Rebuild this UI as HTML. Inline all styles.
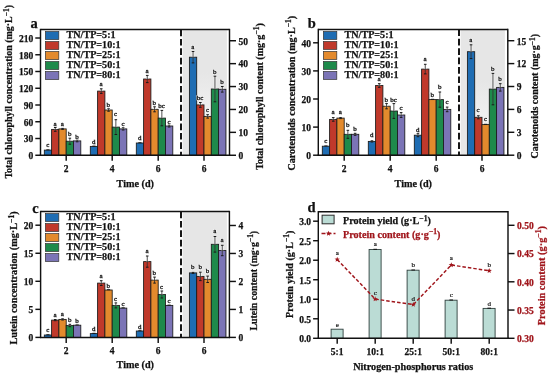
<!DOCTYPE html>
<html><head><meta charset="utf-8"><style>
html,body{margin:0;padding:0;background:#fff;width:550px;height:377px;overflow:hidden}
svg{display:block;will-change:transform;font-family:"Liberation Serif",serif}
</style></head><body>
<svg width="550" height="377" viewBox="0 0 550 377" font-family="Liberation Serif, serif">
<defs><linearGradient id="lg" x1="0" y1="0" x2="0" y2="1"><stop offset="0" stop-color="#e6e6e6"/><stop offset="1" stop-color="#f2f2f2"/></linearGradient></defs>
<rect width="550" height="377" fill="#fff"/>
<rect x="182.60" y="30.10" width="44.30" height="124.55" fill="#e6e6e6" stroke="none" stroke-width="0"/>
<rect x="197.0" y="72.0" width="14.3" height="46.0" fill="url(#lg)"/>
<line x1="181.00" y1="29.50" x2="181.00" y2="155.25" stroke="#111" stroke-width="1.95" stroke-dasharray="6.7 2.7"/>
<rect x="44.30" y="150.10" width="7.30" height="5.15" fill="#1f6db3" stroke="#1a1a1a" stroke-width="0.85"/>
<line x1="46.35" y1="149.80" x2="49.55" y2="149.80" stroke="#111" stroke-width="0.9" />
<text x="47.75" y="147.28" font-size="7" text-anchor="middle" fill="#fff" stroke="#fff" stroke-width="1.6" stroke-opacity="0.6" font-weight="normal">c</text>
<text x="47.75" y="147.28" font-size="7" text-anchor="middle" fill="#111" font-weight="normal" stroke="#111" stroke-width="0.3" >c</text>
<rect x="51.60" y="129.40" width="7.30" height="25.85" fill="#c0392b" stroke="#1a1a1a" stroke-width="0.85"/>
<line x1="55.25" y1="127.00" x2="55.25" y2="129.40" stroke="#fff" stroke-width="2.6" stroke-opacity="0.55"/>
<line x1="55.25" y1="127.50" x2="55.25" y2="131.30" stroke="#333" stroke-width="0.85" />
<line x1="53.95" y1="127.50" x2="56.55" y2="127.50" stroke="#1a1a1a" stroke-width="1.0" />
<line x1="53.95" y1="131.30" x2="56.55" y2="131.30" stroke="#1a1a1a" stroke-width="1.0" />
<text x="55.05" y="126.08" font-size="7" text-anchor="middle" fill="#fff" stroke="#fff" stroke-width="1.6" stroke-opacity="0.6" font-weight="normal">a</text>
<text x="55.05" y="126.08" font-size="7" text-anchor="middle" fill="#111" font-weight="normal" stroke="#111" stroke-width="0.3" >a</text>
<rect x="58.90" y="128.90" width="7.30" height="26.35" fill="#e38a2d" stroke="#1a1a1a" stroke-width="0.85"/>
<line x1="62.55" y1="127.90" x2="62.55" y2="128.90" stroke="#fff" stroke-width="2.6" stroke-opacity="0.55"/>
<line x1="62.55" y1="128.40" x2="62.55" y2="129.40" stroke="#333" stroke-width="0.85" />
<line x1="61.25" y1="128.40" x2="63.85" y2="128.40" stroke="#1a1a1a" stroke-width="1.0" />
<line x1="61.25" y1="129.40" x2="63.85" y2="129.40" stroke="#1a1a1a" stroke-width="1.0" />
<text x="62.35" y="126.08" font-size="7" text-anchor="middle" fill="#fff" stroke="#fff" stroke-width="1.6" stroke-opacity="0.6" font-weight="normal">a</text>
<text x="62.35" y="126.08" font-size="7" text-anchor="middle" fill="#111" font-weight="normal" stroke="#111" stroke-width="0.3" >a</text>
<rect x="66.20" y="141.20" width="7.30" height="14.05" fill="#1e8a4b" stroke="#1a1a1a" stroke-width="0.85"/>
<line x1="69.85" y1="137.70" x2="69.85" y2="141.20" stroke="#fff" stroke-width="2.6" stroke-opacity="0.55"/>
<line x1="69.85" y1="138.20" x2="69.85" y2="144.20" stroke="#333" stroke-width="0.85" />
<line x1="68.55" y1="138.20" x2="71.15" y2="138.20" stroke="#1a1a1a" stroke-width="1.0" />
<line x1="68.55" y1="144.20" x2="71.15" y2="144.20" stroke="#1a1a1a" stroke-width="1.0" />
<text x="69.65" y="136.38" font-size="7" text-anchor="middle" fill="#fff" stroke="#fff" stroke-width="1.6" stroke-opacity="0.6" font-weight="normal">b</text>
<text x="69.65" y="136.38" font-size="7" text-anchor="middle" fill="#111" font-weight="normal" stroke="#111" stroke-width="0.3" >b</text>
<rect x="73.50" y="140.90" width="7.30" height="14.35" fill="#7b74b6" stroke="#1a1a1a" stroke-width="0.85"/>
<line x1="77.15" y1="139.50" x2="77.15" y2="140.90" stroke="#fff" stroke-width="2.6" stroke-opacity="0.55"/>
<line x1="77.15" y1="140.00" x2="77.15" y2="141.80" stroke="#333" stroke-width="0.85" />
<line x1="75.85" y1="140.00" x2="78.45" y2="140.00" stroke="#1a1a1a" stroke-width="1.0" />
<line x1="75.85" y1="141.80" x2="78.45" y2="141.80" stroke="#1a1a1a" stroke-width="1.0" />
<text x="76.95" y="138.98" font-size="7" text-anchor="middle" fill="#fff" stroke="#fff" stroke-width="1.6" stroke-opacity="0.6" font-weight="normal">b</text>
<text x="76.95" y="138.98" font-size="7" text-anchor="middle" fill="#111" font-weight="normal" stroke="#111" stroke-width="0.3" >b</text>
<rect x="90.30" y="146.40" width="7.30" height="8.85" fill="#1f6db3" stroke="#1a1a1a" stroke-width="0.85"/>
<line x1="92.35" y1="146.10" x2="95.55" y2="146.10" stroke="#111" stroke-width="0.9" />
<text x="93.75" y="144.38" font-size="7" text-anchor="middle" fill="#fff" stroke="#fff" stroke-width="1.6" stroke-opacity="0.6" font-weight="normal">d</text>
<text x="93.75" y="144.38" font-size="7" text-anchor="middle" fill="#111" font-weight="normal" stroke="#111" stroke-width="0.3" >d</text>
<rect x="97.60" y="91.10" width="7.30" height="64.15" fill="#c0392b" stroke="#1a1a1a" stroke-width="0.85"/>
<line x1="101.25" y1="88.30" x2="101.25" y2="91.10" stroke="#fff" stroke-width="2.6" stroke-opacity="0.55"/>
<line x1="101.25" y1="88.80" x2="101.25" y2="93.40" stroke="#333" stroke-width="0.85" />
<line x1="99.95" y1="88.80" x2="102.55" y2="88.80" stroke="#1a1a1a" stroke-width="1.0" />
<line x1="99.95" y1="93.40" x2="102.55" y2="93.40" stroke="#1a1a1a" stroke-width="1.0" />
<text x="101.05" y="86.18" font-size="7" text-anchor="middle" fill="#fff" stroke="#fff" stroke-width="1.6" stroke-opacity="0.6" font-weight="normal">a</text>
<text x="101.05" y="86.18" font-size="7" text-anchor="middle" fill="#111" font-weight="normal" stroke="#111" stroke-width="0.3" >a</text>
<rect x="104.90" y="110.00" width="7.30" height="45.25" fill="#e38a2d" stroke="#1a1a1a" stroke-width="0.85"/>
<line x1="108.55" y1="108.30" x2="108.55" y2="110.00" stroke="#fff" stroke-width="2.6" stroke-opacity="0.55"/>
<line x1="108.55" y1="108.80" x2="108.55" y2="111.20" stroke="#333" stroke-width="0.85" />
<line x1="107.25" y1="108.80" x2="109.85" y2="108.80" stroke="#1a1a1a" stroke-width="1.0" />
<line x1="107.25" y1="111.20" x2="109.85" y2="111.20" stroke="#1a1a1a" stroke-width="1.0" />
<text x="108.35" y="106.58" font-size="7" text-anchor="middle" fill="#fff" stroke="#fff" stroke-width="1.6" stroke-opacity="0.6" font-weight="normal">b</text>
<text x="108.35" y="106.58" font-size="7" text-anchor="middle" fill="#111" font-weight="normal" stroke="#111" stroke-width="0.3" >b</text>
<rect x="112.20" y="127.10" width="7.30" height="28.15" fill="#1e8a4b" stroke="#1a1a1a" stroke-width="0.85"/>
<line x1="115.85" y1="119.20" x2="115.85" y2="127.10" stroke="#fff" stroke-width="2.6" stroke-opacity="0.55"/>
<line x1="115.85" y1="119.70" x2="115.85" y2="134.50" stroke="#333" stroke-width="0.85" />
<line x1="114.55" y1="119.70" x2="117.15" y2="119.70" stroke="#1a1a1a" stroke-width="1.0" />
<line x1="114.55" y1="134.50" x2="117.15" y2="134.50" stroke="#1a1a1a" stroke-width="1.0" />
<text x="115.65" y="115.88" font-size="7" text-anchor="middle" fill="#fff" stroke="#fff" stroke-width="1.6" stroke-opacity="0.6" font-weight="normal">c</text>
<text x="115.65" y="115.88" font-size="7" text-anchor="middle" fill="#111" font-weight="normal" stroke="#111" stroke-width="0.3" >c</text>
<rect x="119.50" y="128.90" width="7.30" height="26.35" fill="#7b74b6" stroke="#1a1a1a" stroke-width="0.85"/>
<line x1="123.15" y1="127.30" x2="123.15" y2="128.90" stroke="#fff" stroke-width="2.6" stroke-opacity="0.55"/>
<line x1="123.15" y1="127.80" x2="123.15" y2="130.00" stroke="#333" stroke-width="0.85" />
<line x1="121.85" y1="127.80" x2="124.45" y2="127.80" stroke="#1a1a1a" stroke-width="1.0" />
<line x1="121.85" y1="130.00" x2="124.45" y2="130.00" stroke="#1a1a1a" stroke-width="1.0" />
<text x="122.95" y="126.08" font-size="7" text-anchor="middle" fill="#fff" stroke="#fff" stroke-width="1.6" stroke-opacity="0.6" font-weight="normal">c</text>
<text x="122.95" y="126.08" font-size="7" text-anchor="middle" fill="#111" font-weight="normal" stroke="#111" stroke-width="0.3" >c</text>
<rect x="136.30" y="143.00" width="7.30" height="12.25" fill="#1f6db3" stroke="#1a1a1a" stroke-width="0.85"/>
<line x1="138.35" y1="142.70" x2="141.55" y2="142.70" stroke="#111" stroke-width="0.9" />
<text x="139.75" y="140.48" font-size="7" text-anchor="middle" fill="#fff" stroke="#fff" stroke-width="1.6" stroke-opacity="0.6" font-weight="normal">d</text>
<text x="139.75" y="140.48" font-size="7" text-anchor="middle" fill="#111" font-weight="normal" stroke="#111" stroke-width="0.3" >d</text>
<rect x="143.60" y="79.00" width="7.30" height="76.25" fill="#c0392b" stroke="#1a1a1a" stroke-width="0.85"/>
<line x1="147.25" y1="74.90" x2="147.25" y2="79.00" stroke="#fff" stroke-width="2.6" stroke-opacity="0.55"/>
<line x1="147.25" y1="75.40" x2="147.25" y2="82.60" stroke="#333" stroke-width="0.85" />
<line x1="145.95" y1="75.40" x2="148.55" y2="75.40" stroke="#1a1a1a" stroke-width="1.0" />
<line x1="145.95" y1="82.60" x2="148.55" y2="82.60" stroke="#1a1a1a" stroke-width="1.0" />
<text x="147.05" y="72.68" font-size="7" text-anchor="middle" fill="#fff" stroke="#fff" stroke-width="1.6" stroke-opacity="0.6" font-weight="normal">a</text>
<text x="147.05" y="72.68" font-size="7" text-anchor="middle" fill="#111" font-weight="normal" stroke="#111" stroke-width="0.3" >a</text>
<rect x="150.90" y="109.30" width="7.30" height="45.95" fill="#e38a2d" stroke="#1a1a1a" stroke-width="0.85"/>
<line x1="154.55" y1="106.30" x2="154.55" y2="109.30" stroke="#fff" stroke-width="2.6" stroke-opacity="0.55"/>
<line x1="154.55" y1="106.80" x2="154.55" y2="111.80" stroke="#333" stroke-width="0.85" />
<line x1="153.25" y1="106.80" x2="155.85" y2="106.80" stroke="#1a1a1a" stroke-width="1.0" />
<line x1="153.25" y1="111.80" x2="155.85" y2="111.80" stroke="#1a1a1a" stroke-width="1.0" />
<text x="154.35" y="104.68" font-size="7" text-anchor="middle" fill="#fff" stroke="#fff" stroke-width="1.6" stroke-opacity="0.6" font-weight="normal">b</text>
<text x="154.35" y="104.68" font-size="7" text-anchor="middle" fill="#111" font-weight="normal" stroke="#111" stroke-width="0.3" >b</text>
<rect x="158.20" y="118.10" width="7.30" height="37.15" fill="#1e8a4b" stroke="#1a1a1a" stroke-width="0.85"/>
<line x1="161.85" y1="109.90" x2="161.85" y2="118.10" stroke="#fff" stroke-width="2.6" stroke-opacity="0.55"/>
<line x1="161.85" y1="110.40" x2="161.85" y2="125.80" stroke="#333" stroke-width="0.85" />
<line x1="160.55" y1="110.40" x2="163.15" y2="110.40" stroke="#1a1a1a" stroke-width="1.0" />
<line x1="160.55" y1="125.80" x2="163.15" y2="125.80" stroke="#1a1a1a" stroke-width="1.0" />
<text x="161.65" y="108.38" font-size="7" text-anchor="middle" fill="#fff" stroke="#fff" stroke-width="1.6" stroke-opacity="0.6" font-weight="normal">bc</text>
<text x="161.65" y="108.38" font-size="7" text-anchor="middle" fill="#111" font-weight="normal" stroke="#111" stroke-width="0.3" >bc</text>
<rect x="165.50" y="126.00" width="7.30" height="29.25" fill="#7b74b6" stroke="#1a1a1a" stroke-width="0.85"/>
<line x1="169.15" y1="124.50" x2="169.15" y2="126.00" stroke="#fff" stroke-width="2.6" stroke-opacity="0.55"/>
<line x1="169.15" y1="125.00" x2="169.15" y2="127.00" stroke="#333" stroke-width="0.85" />
<line x1="167.85" y1="125.00" x2="170.45" y2="125.00" stroke="#1a1a1a" stroke-width="1.0" />
<line x1="167.85" y1="127.00" x2="170.45" y2="127.00" stroke="#1a1a1a" stroke-width="1.0" />
<text x="168.95" y="123.98" font-size="7" text-anchor="middle" fill="#fff" stroke="#fff" stroke-width="1.6" stroke-opacity="0.6" font-weight="normal">c</text>
<text x="168.95" y="123.98" font-size="7" text-anchor="middle" fill="#111" font-weight="normal" stroke="#111" stroke-width="0.3" >c</text>
<rect x="189.40" y="57.20" width="7.30" height="98.05" fill="#1f6db3" stroke="#1a1a1a" stroke-width="0.85"/>
<line x1="193.05" y1="51.00" x2="193.05" y2="57.20" stroke="#fff" stroke-width="2.6" stroke-opacity="0.55"/>
<line x1="193.05" y1="51.50" x2="193.05" y2="62.90" stroke="#333" stroke-width="0.85" />
<line x1="191.75" y1="51.50" x2="194.35" y2="51.50" stroke="#1a1a1a" stroke-width="1.0" />
<line x1="191.75" y1="62.90" x2="194.35" y2="62.90" stroke="#1a1a1a" stroke-width="1.0" />
<text x="192.85" y="49.08" font-size="7" text-anchor="middle" fill="#fff" stroke="#fff" stroke-width="1.6" stroke-opacity="0.6" font-weight="normal">a</text>
<text x="192.85" y="49.08" font-size="7" text-anchor="middle" fill="#111" font-weight="normal" stroke="#111" stroke-width="0.3" >a</text>
<rect x="196.70" y="104.90" width="7.30" height="50.35" fill="#c0392b" stroke="#1a1a1a" stroke-width="0.85"/>
<line x1="200.35" y1="102.00" x2="200.35" y2="104.90" stroke="#fff" stroke-width="2.6" stroke-opacity="0.55"/>
<line x1="200.35" y1="102.50" x2="200.35" y2="107.30" stroke="#333" stroke-width="0.85" />
<line x1="199.05" y1="102.50" x2="201.65" y2="102.50" stroke="#1a1a1a" stroke-width="1.0" />
<line x1="199.05" y1="107.30" x2="201.65" y2="107.30" stroke="#1a1a1a" stroke-width="1.0" />
<text x="200.15" y="100.18" font-size="7" text-anchor="middle" fill="#fff" stroke="#fff" stroke-width="1.6" stroke-opacity="0.6" font-weight="normal">bc</text>
<text x="200.15" y="100.18" font-size="7" text-anchor="middle" fill="#111" font-weight="normal" stroke="#111" stroke-width="0.3" >bc</text>
<rect x="204.00" y="116.40" width="7.30" height="38.85" fill="#e38a2d" stroke="#1a1a1a" stroke-width="0.85"/>
<line x1="207.65" y1="114.20" x2="207.65" y2="116.40" stroke="#fff" stroke-width="2.6" stroke-opacity="0.55"/>
<line x1="207.65" y1="114.70" x2="207.65" y2="118.10" stroke="#333" stroke-width="0.85" />
<line x1="206.35" y1="114.70" x2="208.95" y2="114.70" stroke="#1a1a1a" stroke-width="1.0" />
<line x1="206.35" y1="118.10" x2="208.95" y2="118.10" stroke="#1a1a1a" stroke-width="1.0" />
<text x="207.45" y="112.28" font-size="7" text-anchor="middle" fill="#fff" stroke="#fff" stroke-width="1.6" stroke-opacity="0.6" font-weight="normal">c</text>
<text x="207.45" y="112.28" font-size="7" text-anchor="middle" fill="#111" font-weight="normal" stroke="#111" stroke-width="0.3" >c</text>
<rect x="211.30" y="89.00" width="7.30" height="66.25" fill="#1e8a4b" stroke="#1a1a1a" stroke-width="0.85"/>
<line x1="214.95" y1="75.70" x2="214.95" y2="89.00" stroke="#fff" stroke-width="2.6" stroke-opacity="0.55"/>
<line x1="214.95" y1="76.20" x2="214.95" y2="101.80" stroke="#333" stroke-width="0.85" />
<line x1="213.65" y1="76.20" x2="216.25" y2="76.20" stroke="#1a1a1a" stroke-width="1.0" />
<line x1="213.65" y1="101.80" x2="216.25" y2="101.80" stroke="#1a1a1a" stroke-width="1.0" />
<text x="214.75" y="73.68" font-size="7" text-anchor="middle" fill="#fff" stroke="#fff" stroke-width="1.6" stroke-opacity="0.6" font-weight="normal">b</text>
<text x="214.75" y="73.68" font-size="7" text-anchor="middle" fill="#111" font-weight="normal" stroke="#111" stroke-width="0.3" >b</text>
<rect x="218.60" y="89.30" width="7.30" height="65.95" fill="#7b74b6" stroke="#1a1a1a" stroke-width="0.85"/>
<line x1="222.25" y1="86.00" x2="222.25" y2="89.30" stroke="#fff" stroke-width="2.6" stroke-opacity="0.55"/>
<line x1="222.25" y1="86.50" x2="222.25" y2="92.10" stroke="#333" stroke-width="0.85" />
<line x1="220.95" y1="86.50" x2="223.55" y2="86.50" stroke="#1a1a1a" stroke-width="1.0" />
<line x1="220.95" y1="92.10" x2="223.55" y2="92.10" stroke="#1a1a1a" stroke-width="1.0" />
<text x="222.05" y="84.28" font-size="7" text-anchor="middle" fill="#fff" stroke="#fff" stroke-width="1.6" stroke-opacity="0.6" font-weight="normal">b</text>
<text x="222.05" y="84.28" font-size="7" text-anchor="middle" fill="#111" font-weight="normal" stroke="#111" stroke-width="0.3" >b</text>
<line x1="40.50" y1="29.50" x2="229.50" y2="29.50" stroke="#111" stroke-width="1.45" />
<line x1="40.50" y1="28.85" x2="40.50" y2="155.90" stroke="#111" stroke-width="1.45" />
<line x1="229.50" y1="28.85" x2="229.50" y2="155.90" stroke="#111" stroke-width="1.45" />
<line x1="39.85" y1="155.25" x2="230.15" y2="155.25" stroke="#111" stroke-width="1.45" />
<line x1="35.30" y1="155.25" x2="40.50" y2="155.25" stroke="#111" stroke-width="1.45" />
<text x="33.20" y="159.08" font-size="9.5" text-anchor="end" fill="#111" font-weight="bold" stroke="#111" stroke-width="0.25" >0</text>
<line x1="35.30" y1="138.50" x2="40.50" y2="138.50" stroke="#111" stroke-width="1.45" />
<text x="33.20" y="142.33" font-size="9.5" text-anchor="end" fill="#111" font-weight="bold" stroke="#111" stroke-width="0.25" >30</text>
<line x1="35.30" y1="121.75" x2="40.50" y2="121.75" stroke="#111" stroke-width="1.45" />
<text x="33.20" y="125.58" font-size="9.5" text-anchor="end" fill="#111" font-weight="bold" stroke="#111" stroke-width="0.25" >60</text>
<line x1="35.30" y1="105.00" x2="40.50" y2="105.00" stroke="#111" stroke-width="1.45" />
<text x="33.20" y="108.83" font-size="9.5" text-anchor="end" fill="#111" font-weight="bold" stroke="#111" stroke-width="0.25" >90</text>
<line x1="35.30" y1="88.25" x2="40.50" y2="88.25" stroke="#111" stroke-width="1.45" />
<text x="33.20" y="92.08" font-size="9.5" text-anchor="end" fill="#111" font-weight="bold" stroke="#111" stroke-width="0.25" >120</text>
<line x1="35.30" y1="71.50" x2="40.50" y2="71.50" stroke="#111" stroke-width="1.45" />
<text x="33.20" y="75.33" font-size="9.5" text-anchor="end" fill="#111" font-weight="bold" stroke="#111" stroke-width="0.25" >150</text>
<line x1="35.30" y1="54.76" x2="40.50" y2="54.76" stroke="#111" stroke-width="1.45" />
<text x="33.20" y="58.59" font-size="9.5" text-anchor="end" fill="#111" font-weight="bold" stroke="#111" stroke-width="0.25" >180</text>
<line x1="35.30" y1="38.01" x2="40.50" y2="38.01" stroke="#111" stroke-width="1.45" />
<text x="33.20" y="41.84" font-size="9.5" text-anchor="end" fill="#111" font-weight="bold" stroke="#111" stroke-width="0.25" >210</text>
<line x1="229.50" y1="155.25" x2="236.00" y2="155.25" stroke="#111" stroke-width="1.45" />
<text x="238.50" y="159.08" font-size="9.5" text-anchor="start" fill="#111" font-weight="bold" stroke="#111" stroke-width="0.25" >0</text>
<line x1="229.50" y1="132.35" x2="236.00" y2="132.35" stroke="#111" stroke-width="1.45" />
<text x="238.50" y="136.18" font-size="9.5" text-anchor="start" fill="#111" font-weight="bold" stroke="#111" stroke-width="0.25" >10</text>
<line x1="229.50" y1="109.45" x2="236.00" y2="109.45" stroke="#111" stroke-width="1.45" />
<text x="238.50" y="113.28" font-size="9.5" text-anchor="start" fill="#111" font-weight="bold" stroke="#111" stroke-width="0.25" >20</text>
<line x1="229.50" y1="86.55" x2="236.00" y2="86.55" stroke="#111" stroke-width="1.45" />
<text x="238.50" y="90.38" font-size="9.5" text-anchor="start" fill="#111" font-weight="bold" stroke="#111" stroke-width="0.25" >30</text>
<line x1="229.50" y1="63.65" x2="236.00" y2="63.65" stroke="#111" stroke-width="1.45" />
<text x="238.50" y="67.48" font-size="9.5" text-anchor="start" fill="#111" font-weight="bold" stroke="#111" stroke-width="0.25" >40</text>
<line x1="229.50" y1="40.75" x2="236.00" y2="40.75" stroke="#111" stroke-width="1.45" />
<text x="238.50" y="44.58" font-size="9.5" text-anchor="start" fill="#111" font-weight="bold" stroke="#111" stroke-width="0.25" >50</text>
<line x1="66.20" y1="155.25" x2="66.20" y2="160.75" stroke="#111" stroke-width="1.45" />
<text x="66.20" y="171.80" font-size="9.5" text-anchor="middle" fill="#111" font-weight="bold" stroke="#111" stroke-width="0.25" >2</text>
<line x1="112.20" y1="155.25" x2="112.20" y2="160.75" stroke="#111" stroke-width="1.45" />
<text x="112.20" y="171.80" font-size="9.5" text-anchor="middle" fill="#111" font-weight="bold" stroke="#111" stroke-width="0.25" >4</text>
<line x1="158.20" y1="155.25" x2="158.20" y2="160.75" stroke="#111" stroke-width="1.45" />
<text x="158.20" y="171.80" font-size="9.5" text-anchor="middle" fill="#111" font-weight="bold" stroke="#111" stroke-width="0.25" >6</text>
<line x1="204.00" y1="155.25" x2="204.00" y2="160.75" stroke="#111" stroke-width="1.45" />
<text x="204.00" y="171.80" font-size="9.5" text-anchor="middle" fill="#111" font-weight="bold" stroke="#111" stroke-width="0.25" >6</text>
<text x="135.30" y="187.30" font-size="10.2" text-anchor="middle" fill="#111" font-weight="bold" stroke="#111" stroke-width="0.25" >Time (d)</text>
<rect x="45.40" y="31.60" width="13.40" height="7.90" fill="#1f6db3" stroke="#333" stroke-width="0.7"/>
<text x="66.50" y="38.40" font-size="10.15" text-anchor="start" fill="#111" font-weight="bold" stroke="#111" stroke-width="0.25" >TN/TP=5:1</text>
<rect x="45.40" y="41.60" width="13.40" height="7.90" fill="#c0392b" stroke="#333" stroke-width="0.7"/>
<text x="66.50" y="48.40" font-size="10.15" text-anchor="start" fill="#111" font-weight="bold" stroke="#111" stroke-width="0.25" >TN/TP=10:1</text>
<rect x="45.40" y="51.60" width="13.40" height="7.90" fill="#e38a2d" stroke="#333" stroke-width="0.7"/>
<text x="66.50" y="58.40" font-size="10.15" text-anchor="start" fill="#111" font-weight="bold" stroke="#111" stroke-width="0.25" >TN/TP=25:1</text>
<rect x="45.40" y="61.60" width="13.40" height="7.90" fill="#1e8a4b" stroke="#333" stroke-width="0.7"/>
<text x="66.50" y="68.40" font-size="10.15" text-anchor="start" fill="#111" font-weight="bold" stroke="#111" stroke-width="0.25" >TN/TP=50:1</text>
<rect x="45.40" y="71.60" width="13.40" height="7.90" fill="#7b74b6" stroke="#333" stroke-width="0.7"/>
<text x="66.50" y="78.40" font-size="10.15" text-anchor="start" fill="#111" font-weight="bold" stroke="#111" stroke-width="0.25" >TN/TP=80:1</text>
<text transform="translate(30.40,28.20)" font-size="14.5" fill="#111" font-weight="bold" stroke="#111" stroke-width="0.25">a</text>
<text transform="translate(12.30,91.80) rotate(-90)" font-size="10.2" text-anchor="middle" fill="#111" font-weight="bold" stroke="#111" stroke-width="0.25" textLength="173.6" lengthAdjust="spacingAndGlyphs">Total chlorophyll concentration (mg·L<tspan font-size="0.75em" dy="-0.45em">−1</tspan><tspan dy="0.34em">)</tspan></text>
<text transform="translate(262.60,96.50) rotate(-90)" font-size="10.2" text-anchor="middle" fill="#111" font-weight="bold" stroke="#111" stroke-width="0.25" textLength="146.6" lengthAdjust="spacingAndGlyphs">Total chlorophyll content (mg·g<tspan font-size="0.75em" dy="-0.45em">−1</tspan><tspan dy="0.34em">)</tspan></text>
<rect x="460.60" y="30.00" width="44.30" height="124.60" fill="#e6e6e6" stroke="none" stroke-width="0"/>
<rect x="475.0" y="80.0" width="14.6" height="46.0" fill="url(#lg)"/>
<line x1="459.00" y1="29.40" x2="459.00" y2="155.20" stroke="#111" stroke-width="1.95" stroke-dasharray="6.7 2.7"/>
<rect x="322.30" y="146.20" width="7.30" height="9.00" fill="#1f6db3" stroke="#1a1a1a" stroke-width="0.85"/>
<line x1="324.35" y1="145.90" x2="327.55" y2="145.90" stroke="#111" stroke-width="0.9" />
<text x="325.75" y="143.08" font-size="7" text-anchor="middle" fill="#fff" stroke="#fff" stroke-width="1.6" stroke-opacity="0.6" font-weight="normal">c</text>
<text x="325.75" y="143.08" font-size="7" text-anchor="middle" fill="#111" font-weight="normal" stroke="#111" stroke-width="0.3" >c</text>
<rect x="329.60" y="119.40" width="7.30" height="35.80" fill="#c0392b" stroke="#1a1a1a" stroke-width="0.85"/>
<line x1="333.25" y1="117.10" x2="333.25" y2="119.40" stroke="#fff" stroke-width="2.6" stroke-opacity="0.55"/>
<line x1="333.25" y1="117.60" x2="333.25" y2="121.20" stroke="#333" stroke-width="0.85" />
<line x1="331.95" y1="117.60" x2="334.55" y2="117.60" stroke="#1a1a1a" stroke-width="1.0" />
<line x1="331.95" y1="121.20" x2="334.55" y2="121.20" stroke="#1a1a1a" stroke-width="1.0" />
<text x="333.05" y="114.18" font-size="7" text-anchor="middle" fill="#fff" stroke="#fff" stroke-width="1.6" stroke-opacity="0.6" font-weight="normal">a</text>
<text x="333.05" y="114.18" font-size="7" text-anchor="middle" fill="#111" font-weight="normal" stroke="#111" stroke-width="0.3" >a</text>
<rect x="336.90" y="118.10" width="7.30" height="37.10" fill="#e38a2d" stroke="#1a1a1a" stroke-width="0.85"/>
<line x1="340.55" y1="117.10" x2="340.55" y2="118.10" stroke="#fff" stroke-width="2.6" stroke-opacity="0.55"/>
<line x1="340.55" y1="117.60" x2="340.55" y2="118.60" stroke="#333" stroke-width="0.85" />
<line x1="339.25" y1="117.60" x2="341.85" y2="117.60" stroke="#1a1a1a" stroke-width="1.0" />
<line x1="339.25" y1="118.60" x2="341.85" y2="118.60" stroke="#1a1a1a" stroke-width="1.0" />
<text x="340.35" y="114.18" font-size="7" text-anchor="middle" fill="#fff" stroke="#fff" stroke-width="1.6" stroke-opacity="0.6" font-weight="normal">a</text>
<text x="340.35" y="114.18" font-size="7" text-anchor="middle" fill="#111" font-weight="normal" stroke="#111" stroke-width="0.3" >a</text>
<rect x="344.20" y="134.30" width="7.30" height="20.90" fill="#1e8a4b" stroke="#1a1a1a" stroke-width="0.85"/>
<line x1="347.85" y1="129.80" x2="347.85" y2="134.30" stroke="#fff" stroke-width="2.6" stroke-opacity="0.55"/>
<line x1="347.85" y1="130.30" x2="347.85" y2="138.30" stroke="#333" stroke-width="0.85" />
<line x1="346.55" y1="130.30" x2="349.15" y2="130.30" stroke="#1a1a1a" stroke-width="1.0" />
<line x1="346.55" y1="138.30" x2="349.15" y2="138.30" stroke="#1a1a1a" stroke-width="1.0" />
<text x="347.65" y="127.38" font-size="7" text-anchor="middle" fill="#fff" stroke="#fff" stroke-width="1.6" stroke-opacity="0.6" font-weight="normal">b</text>
<text x="347.65" y="127.38" font-size="7" text-anchor="middle" fill="#111" font-weight="normal" stroke="#111" stroke-width="0.3" >b</text>
<rect x="351.50" y="134.30" width="7.30" height="20.90" fill="#7b74b6" stroke="#1a1a1a" stroke-width="0.85"/>
<line x1="355.15" y1="132.80" x2="355.15" y2="134.30" stroke="#fff" stroke-width="2.6" stroke-opacity="0.55"/>
<line x1="355.15" y1="133.30" x2="355.15" y2="135.30" stroke="#333" stroke-width="0.85" />
<line x1="353.85" y1="133.30" x2="356.45" y2="133.30" stroke="#1a1a1a" stroke-width="1.0" />
<line x1="353.85" y1="135.30" x2="356.45" y2="135.30" stroke="#1a1a1a" stroke-width="1.0" />
<text x="354.95" y="131.08" font-size="7" text-anchor="middle" fill="#fff" stroke="#fff" stroke-width="1.6" stroke-opacity="0.6" font-weight="normal">b</text>
<text x="354.95" y="131.08" font-size="7" text-anchor="middle" fill="#111" font-weight="normal" stroke="#111" stroke-width="0.3" >b</text>
<rect x="368.30" y="141.40" width="7.30" height="13.80" fill="#1f6db3" stroke="#1a1a1a" stroke-width="0.85"/>
<line x1="371.95" y1="140.30" x2="371.95" y2="141.40" stroke="#fff" stroke-width="2.6" stroke-opacity="0.55"/>
<line x1="371.95" y1="140.80" x2="371.95" y2="142.00" stroke="#333" stroke-width="0.85" />
<line x1="370.65" y1="140.80" x2="373.25" y2="140.80" stroke="#1a1a1a" stroke-width="1.0" />
<line x1="370.65" y1="142.00" x2="373.25" y2="142.00" stroke="#1a1a1a" stroke-width="1.0" />
<text x="371.75" y="136.68" font-size="7" text-anchor="middle" fill="#fff" stroke="#fff" stroke-width="1.6" stroke-opacity="0.6" font-weight="normal">d</text>
<text x="371.75" y="136.68" font-size="7" text-anchor="middle" fill="#111" font-weight="normal" stroke="#111" stroke-width="0.3" >d</text>
<rect x="375.60" y="85.50" width="7.30" height="69.70" fill="#c0392b" stroke="#1a1a1a" stroke-width="0.85"/>
<line x1="379.25" y1="83.20" x2="379.25" y2="85.50" stroke="#fff" stroke-width="2.6" stroke-opacity="0.55"/>
<line x1="379.25" y1="83.70" x2="379.25" y2="87.30" stroke="#333" stroke-width="0.85" />
<line x1="377.95" y1="83.70" x2="380.55" y2="83.70" stroke="#1a1a1a" stroke-width="1.0" />
<line x1="377.95" y1="87.30" x2="380.55" y2="87.30" stroke="#1a1a1a" stroke-width="1.0" />
<text x="379.05" y="81.18" font-size="7" text-anchor="middle" fill="#fff" stroke="#fff" stroke-width="1.6" stroke-opacity="0.6" font-weight="normal">a</text>
<text x="379.05" y="81.18" font-size="7" text-anchor="middle" fill="#111" font-weight="normal" stroke="#111" stroke-width="0.3" >a</text>
<rect x="382.90" y="106.20" width="7.30" height="49.00" fill="#e38a2d" stroke="#1a1a1a" stroke-width="0.85"/>
<line x1="386.55" y1="103.10" x2="386.55" y2="106.20" stroke="#fff" stroke-width="2.6" stroke-opacity="0.55"/>
<line x1="386.55" y1="103.60" x2="386.55" y2="108.80" stroke="#333" stroke-width="0.85" />
<line x1="385.25" y1="103.60" x2="387.85" y2="103.60" stroke="#1a1a1a" stroke-width="1.0" />
<line x1="385.25" y1="108.80" x2="387.85" y2="108.80" stroke="#1a1a1a" stroke-width="1.0" />
<text x="386.35" y="101.78" font-size="7" text-anchor="middle" fill="#fff" stroke="#fff" stroke-width="1.6" stroke-opacity="0.6" font-weight="normal">b</text>
<text x="386.35" y="101.78" font-size="7" text-anchor="middle" fill="#111" font-weight="normal" stroke="#111" stroke-width="0.3" >b</text>
<rect x="390.20" y="111.00" width="7.30" height="44.20" fill="#1e8a4b" stroke="#1a1a1a" stroke-width="0.85"/>
<line x1="393.85" y1="103.10" x2="393.85" y2="111.00" stroke="#fff" stroke-width="2.6" stroke-opacity="0.55"/>
<line x1="393.85" y1="103.60" x2="393.85" y2="118.40" stroke="#333" stroke-width="0.85" />
<line x1="392.55" y1="103.60" x2="395.15" y2="103.60" stroke="#1a1a1a" stroke-width="1.0" />
<line x1="392.55" y1="118.40" x2="395.15" y2="118.40" stroke="#1a1a1a" stroke-width="1.0" />
<text x="393.65" y="101.78" font-size="7" text-anchor="middle" fill="#fff" stroke="#fff" stroke-width="1.6" stroke-opacity="0.6" font-weight="normal">bc</text>
<text x="393.65" y="101.78" font-size="7" text-anchor="middle" fill="#111" font-weight="normal" stroke="#111" stroke-width="0.3" >bc</text>
<rect x="397.50" y="115.00" width="7.30" height="40.20" fill="#7b74b6" stroke="#1a1a1a" stroke-width="0.85"/>
<line x1="401.15" y1="112.10" x2="401.15" y2="115.00" stroke="#fff" stroke-width="2.6" stroke-opacity="0.55"/>
<line x1="401.15" y1="112.60" x2="401.15" y2="117.40" stroke="#333" stroke-width="0.85" />
<line x1="399.85" y1="112.60" x2="402.45" y2="112.60" stroke="#1a1a1a" stroke-width="1.0" />
<line x1="399.85" y1="117.40" x2="402.45" y2="117.40" stroke="#1a1a1a" stroke-width="1.0" />
<text x="400.95" y="110.28" font-size="7" text-anchor="middle" fill="#fff" stroke="#fff" stroke-width="1.6" stroke-opacity="0.6" font-weight="normal">c</text>
<text x="400.95" y="110.28" font-size="7" text-anchor="middle" fill="#111" font-weight="normal" stroke="#111" stroke-width="0.3" >c</text>
<rect x="414.30" y="135.20" width="7.30" height="20.00" fill="#1f6db3" stroke="#1a1a1a" stroke-width="0.85"/>
<line x1="417.95" y1="133.20" x2="417.95" y2="135.20" stroke="#fff" stroke-width="2.6" stroke-opacity="0.55"/>
<line x1="417.95" y1="133.70" x2="417.95" y2="136.70" stroke="#333" stroke-width="0.85" />
<line x1="416.65" y1="133.70" x2="419.25" y2="133.70" stroke="#1a1a1a" stroke-width="1.0" />
<line x1="416.65" y1="136.70" x2="419.25" y2="136.70" stroke="#1a1a1a" stroke-width="1.0" />
<text x="417.75" y="131.88" font-size="7" text-anchor="middle" fill="#fff" stroke="#fff" stroke-width="1.6" stroke-opacity="0.6" font-weight="normal">d</text>
<text x="417.75" y="131.88" font-size="7" text-anchor="middle" fill="#111" font-weight="normal" stroke="#111" stroke-width="0.3" >d</text>
<rect x="421.60" y="69.10" width="7.30" height="86.10" fill="#c0392b" stroke="#1a1a1a" stroke-width="0.85"/>
<line x1="425.25" y1="63.80" x2="425.25" y2="69.10" stroke="#fff" stroke-width="2.6" stroke-opacity="0.55"/>
<line x1="425.25" y1="64.30" x2="425.25" y2="73.90" stroke="#333" stroke-width="0.85" />
<line x1="423.95" y1="64.30" x2="426.55" y2="64.30" stroke="#1a1a1a" stroke-width="1.0" />
<line x1="423.95" y1="73.90" x2="426.55" y2="73.90" stroke="#1a1a1a" stroke-width="1.0" />
<text x="425.05" y="61.48" font-size="7" text-anchor="middle" fill="#fff" stroke="#fff" stroke-width="1.6" stroke-opacity="0.6" font-weight="normal">a</text>
<text x="425.05" y="61.48" font-size="7" text-anchor="middle" fill="#111" font-weight="normal" stroke="#111" stroke-width="0.3" >a</text>
<rect x="428.90" y="99.60" width="7.30" height="55.60" fill="#e38a2d" stroke="#1a1a1a" stroke-width="0.85"/>
<line x1="430.95" y1="99.30" x2="434.15" y2="99.30" stroke="#111" stroke-width="0.9" />
<text x="432.35" y="96.78" font-size="7" text-anchor="middle" fill="#fff" stroke="#fff" stroke-width="1.6" stroke-opacity="0.6" font-weight="normal">b</text>
<text x="432.35" y="96.78" font-size="7" text-anchor="middle" fill="#111" font-weight="normal" stroke="#111" stroke-width="0.3" >b</text>
<rect x="436.20" y="99.60" width="7.30" height="55.60" fill="#1e8a4b" stroke="#1a1a1a" stroke-width="0.85"/>
<line x1="439.85" y1="91.50" x2="439.85" y2="99.60" stroke="#fff" stroke-width="2.6" stroke-opacity="0.55"/>
<line x1="439.85" y1="92.00" x2="439.85" y2="107.20" stroke="#333" stroke-width="0.85" />
<line x1="438.55" y1="92.00" x2="441.15" y2="92.00" stroke="#1a1a1a" stroke-width="1.0" />
<line x1="438.55" y1="107.20" x2="441.15" y2="107.20" stroke="#1a1a1a" stroke-width="1.0" />
<text x="439.65" y="89.38" font-size="7" text-anchor="middle" fill="#fff" stroke="#fff" stroke-width="1.6" stroke-opacity="0.6" font-weight="normal">b</text>
<text x="439.65" y="89.38" font-size="7" text-anchor="middle" fill="#111" font-weight="normal" stroke="#111" stroke-width="0.3" >b</text>
<rect x="443.50" y="109.40" width="7.30" height="45.80" fill="#7b74b6" stroke="#1a1a1a" stroke-width="0.85"/>
<line x1="447.15" y1="106.60" x2="447.15" y2="109.40" stroke="#fff" stroke-width="2.6" stroke-opacity="0.55"/>
<line x1="447.15" y1="107.10" x2="447.15" y2="111.70" stroke="#333" stroke-width="0.85" />
<line x1="445.85" y1="107.10" x2="448.45" y2="107.10" stroke="#1a1a1a" stroke-width="1.0" />
<line x1="445.85" y1="111.70" x2="448.45" y2="111.70" stroke="#1a1a1a" stroke-width="1.0" />
<text x="446.95" y="103.58" font-size="7" text-anchor="middle" fill="#fff" stroke="#fff" stroke-width="1.6" stroke-opacity="0.6" font-weight="normal">c</text>
<text x="446.95" y="103.58" font-size="7" text-anchor="middle" fill="#111" font-weight="normal" stroke="#111" stroke-width="0.3" >c</text>
<rect x="467.40" y="51.70" width="7.30" height="103.50" fill="#1f6db3" stroke="#1a1a1a" stroke-width="0.85"/>
<line x1="471.05" y1="44.30" x2="471.05" y2="51.70" stroke="#fff" stroke-width="2.6" stroke-opacity="0.55"/>
<line x1="471.05" y1="44.80" x2="471.05" y2="58.60" stroke="#333" stroke-width="0.85" />
<line x1="469.75" y1="44.80" x2="472.35" y2="44.80" stroke="#1a1a1a" stroke-width="1.0" />
<line x1="469.75" y1="58.60" x2="472.35" y2="58.60" stroke="#1a1a1a" stroke-width="1.0" />
<text x="470.85" y="42.08" font-size="7" text-anchor="middle" fill="#fff" stroke="#fff" stroke-width="1.6" stroke-opacity="0.6" font-weight="normal">a</text>
<text x="470.85" y="42.08" font-size="7" text-anchor="middle" fill="#111" font-weight="normal" stroke="#111" stroke-width="0.3" >a</text>
<rect x="474.70" y="117.30" width="7.30" height="37.90" fill="#c0392b" stroke="#1a1a1a" stroke-width="0.85"/>
<line x1="478.35" y1="115.30" x2="478.35" y2="117.30" stroke="#fff" stroke-width="2.6" stroke-opacity="0.55"/>
<line x1="478.35" y1="115.80" x2="478.35" y2="118.80" stroke="#333" stroke-width="0.85" />
<line x1="477.05" y1="115.80" x2="479.65" y2="115.80" stroke="#1a1a1a" stroke-width="1.0" />
<line x1="477.05" y1="118.80" x2="479.65" y2="118.80" stroke="#1a1a1a" stroke-width="1.0" />
<text x="478.15" y="111.68" font-size="7" text-anchor="middle" fill="#fff" stroke="#fff" stroke-width="1.6" stroke-opacity="0.6" font-weight="normal">c</text>
<text x="478.15" y="111.68" font-size="7" text-anchor="middle" fill="#111" font-weight="normal" stroke="#111" stroke-width="0.3" >c</text>
<rect x="482.00" y="124.60" width="7.30" height="30.60" fill="#e38a2d" stroke="#1a1a1a" stroke-width="0.85"/>
<line x1="484.05" y1="124.30" x2="487.25" y2="124.30" stroke="#111" stroke-width="0.9" />
<text x="485.45" y="121.18" font-size="7" text-anchor="middle" fill="#fff" stroke="#fff" stroke-width="1.6" stroke-opacity="0.6" font-weight="normal">c</text>
<text x="485.45" y="121.18" font-size="7" text-anchor="middle" fill="#111" font-weight="normal" stroke="#111" stroke-width="0.3" >c</text>
<rect x="489.30" y="89.10" width="7.30" height="66.10" fill="#1e8a4b" stroke="#1a1a1a" stroke-width="0.85"/>
<line x1="492.95" y1="72.90" x2="492.95" y2="89.10" stroke="#fff" stroke-width="2.6" stroke-opacity="0.55"/>
<line x1="492.95" y1="73.40" x2="492.95" y2="104.80" stroke="#333" stroke-width="0.85" />
<line x1="491.65" y1="73.40" x2="494.25" y2="73.40" stroke="#1a1a1a" stroke-width="1.0" />
<line x1="491.65" y1="104.80" x2="494.25" y2="104.80" stroke="#1a1a1a" stroke-width="1.0" />
<text x="492.75" y="71.08" font-size="7" text-anchor="middle" fill="#fff" stroke="#fff" stroke-width="1.6" stroke-opacity="0.6" font-weight="normal">b</text>
<text x="492.75" y="71.08" font-size="7" text-anchor="middle" fill="#111" font-weight="normal" stroke="#111" stroke-width="0.3" >b</text>
<rect x="496.60" y="87.40" width="7.30" height="67.80" fill="#7b74b6" stroke="#1a1a1a" stroke-width="0.85"/>
<line x1="500.25" y1="83.20" x2="500.25" y2="87.40" stroke="#fff" stroke-width="2.6" stroke-opacity="0.55"/>
<line x1="500.25" y1="83.70" x2="500.25" y2="91.10" stroke="#333" stroke-width="0.85" />
<line x1="498.95" y1="83.70" x2="501.55" y2="83.70" stroke="#1a1a1a" stroke-width="1.0" />
<line x1="498.95" y1="91.10" x2="501.55" y2="91.10" stroke="#1a1a1a" stroke-width="1.0" />
<text x="500.05" y="81.48" font-size="7" text-anchor="middle" fill="#fff" stroke="#fff" stroke-width="1.6" stroke-opacity="0.6" font-weight="normal">b</text>
<text x="500.05" y="81.48" font-size="7" text-anchor="middle" fill="#111" font-weight="normal" stroke="#111" stroke-width="0.3" >b</text>
<line x1="318.30" y1="29.40" x2="507.80" y2="29.40" stroke="#111" stroke-width="1.45" />
<line x1="318.30" y1="28.75" x2="318.30" y2="155.85" stroke="#111" stroke-width="1.45" />
<line x1="507.80" y1="28.75" x2="507.80" y2="155.85" stroke="#111" stroke-width="1.45" />
<line x1="317.65" y1="155.20" x2="508.45" y2="155.20" stroke="#111" stroke-width="1.45" />
<line x1="313.10" y1="155.20" x2="318.30" y2="155.20" stroke="#111" stroke-width="1.45" />
<text x="311.00" y="159.03" font-size="9.5" text-anchor="end" fill="#111" font-weight="bold" stroke="#111" stroke-width="0.25" >0</text>
<line x1="313.10" y1="127.10" x2="318.30" y2="127.10" stroke="#111" stroke-width="1.45" />
<text x="311.00" y="130.93" font-size="9.5" text-anchor="end" fill="#111" font-weight="bold" stroke="#111" stroke-width="0.25" >10</text>
<line x1="313.10" y1="99.00" x2="318.30" y2="99.00" stroke="#111" stroke-width="1.45" />
<text x="311.00" y="102.83" font-size="9.5" text-anchor="end" fill="#111" font-weight="bold" stroke="#111" stroke-width="0.25" >20</text>
<line x1="313.10" y1="70.90" x2="318.30" y2="70.90" stroke="#111" stroke-width="1.45" />
<text x="311.00" y="74.73" font-size="9.5" text-anchor="end" fill="#111" font-weight="bold" stroke="#111" stroke-width="0.25" >30</text>
<line x1="313.10" y1="42.80" x2="318.30" y2="42.80" stroke="#111" stroke-width="1.45" />
<text x="311.00" y="46.63" font-size="9.5" text-anchor="end" fill="#111" font-weight="bold" stroke="#111" stroke-width="0.25" >40</text>
<line x1="507.80" y1="155.20" x2="514.30" y2="155.20" stroke="#111" stroke-width="1.45" />
<text x="516.80" y="159.03" font-size="9.5" text-anchor="start" fill="#111" font-weight="bold" stroke="#111" stroke-width="0.25" >0</text>
<line x1="507.80" y1="132.30" x2="514.30" y2="132.30" stroke="#111" stroke-width="1.45" />
<text x="516.80" y="136.13" font-size="9.5" text-anchor="start" fill="#111" font-weight="bold" stroke="#111" stroke-width="0.25" >3</text>
<line x1="507.80" y1="109.40" x2="514.30" y2="109.40" stroke="#111" stroke-width="1.45" />
<text x="516.80" y="113.23" font-size="9.5" text-anchor="start" fill="#111" font-weight="bold" stroke="#111" stroke-width="0.25" >6</text>
<line x1="507.80" y1="86.50" x2="514.30" y2="86.50" stroke="#111" stroke-width="1.45" />
<text x="516.80" y="90.33" font-size="9.5" text-anchor="start" fill="#111" font-weight="bold" stroke="#111" stroke-width="0.25" >9</text>
<line x1="507.80" y1="63.60" x2="514.30" y2="63.60" stroke="#111" stroke-width="1.45" />
<text x="516.80" y="67.43" font-size="9.5" text-anchor="start" fill="#111" font-weight="bold" stroke="#111" stroke-width="0.25" >12</text>
<line x1="507.80" y1="40.70" x2="514.30" y2="40.70" stroke="#111" stroke-width="1.45" />
<text x="516.80" y="44.53" font-size="9.5" text-anchor="start" fill="#111" font-weight="bold" stroke="#111" stroke-width="0.25" >15</text>
<line x1="344.20" y1="155.20" x2="344.20" y2="160.70" stroke="#111" stroke-width="1.45" />
<text x="344.20" y="171.80" font-size="9.5" text-anchor="middle" fill="#111" font-weight="bold" stroke="#111" stroke-width="0.25" >2</text>
<line x1="390.20" y1="155.20" x2="390.20" y2="160.70" stroke="#111" stroke-width="1.45" />
<text x="390.20" y="171.80" font-size="9.5" text-anchor="middle" fill="#111" font-weight="bold" stroke="#111" stroke-width="0.25" >4</text>
<line x1="436.20" y1="155.20" x2="436.20" y2="160.70" stroke="#111" stroke-width="1.45" />
<text x="436.20" y="171.80" font-size="9.5" text-anchor="middle" fill="#111" font-weight="bold" stroke="#111" stroke-width="0.25" >6</text>
<line x1="482.00" y1="155.20" x2="482.00" y2="160.70" stroke="#111" stroke-width="1.45" />
<text x="482.00" y="171.80" font-size="9.5" text-anchor="middle" fill="#111" font-weight="bold" stroke="#111" stroke-width="0.25" >6</text>
<text x="413.30" y="187.30" font-size="10.2" text-anchor="middle" fill="#111" font-weight="bold" stroke="#111" stroke-width="0.25" >Time (d)</text>
<rect x="323.40" y="31.50" width="13.40" height="7.90" fill="#1f6db3" stroke="#333" stroke-width="0.7"/>
<text x="344.50" y="38.30" font-size="10.15" text-anchor="start" fill="#111" font-weight="bold" stroke="#111" stroke-width="0.25" >TN/TP=5:1</text>
<rect x="323.40" y="41.50" width="13.40" height="7.90" fill="#c0392b" stroke="#333" stroke-width="0.7"/>
<text x="344.50" y="48.30" font-size="10.15" text-anchor="start" fill="#111" font-weight="bold" stroke="#111" stroke-width="0.25" >TN/TP=10:1</text>
<rect x="323.40" y="51.50" width="13.40" height="7.90" fill="#e38a2d" stroke="#333" stroke-width="0.7"/>
<text x="344.50" y="58.30" font-size="10.15" text-anchor="start" fill="#111" font-weight="bold" stroke="#111" stroke-width="0.25" >TN/TP=25:1</text>
<rect x="323.40" y="61.50" width="13.40" height="7.90" fill="#1e8a4b" stroke="#333" stroke-width="0.7"/>
<text x="344.50" y="68.30" font-size="10.15" text-anchor="start" fill="#111" font-weight="bold" stroke="#111" stroke-width="0.25" >TN/TP=50:1</text>
<rect x="323.40" y="71.50" width="13.40" height="7.90" fill="#7b74b6" stroke="#333" stroke-width="0.7"/>
<text x="344.50" y="78.30" font-size="10.15" text-anchor="start" fill="#111" font-weight="bold" stroke="#111" stroke-width="0.25" >TN/TP=80:1</text>
<text transform="translate(307.80,28.00)" font-size="14.5" fill="#111" font-weight="bold" stroke="#111" stroke-width="0.25">b</text>
<text transform="translate(294.90,93.20) rotate(-90)" font-size="10.2" text-anchor="middle" fill="#111" font-weight="bold" stroke="#111" stroke-width="0.25" textLength="154.6" lengthAdjust="spacingAndGlyphs">Carotenoids concentration (mg·L<tspan font-size="0.75em" dy="-0.45em">−1</tspan><tspan dy="0.34em">)</tspan></text>
<text transform="translate(538.00,96.20) rotate(-90)" font-size="10.2" text-anchor="middle" fill="#111" font-weight="bold" stroke="#111" stroke-width="0.25" textLength="124.7" lengthAdjust="spacingAndGlyphs">Carotenoids content (mg·g<tspan font-size="0.75em" dy="-0.45em">−1</tspan><tspan dy="0.34em">)</tspan></text>
<rect x="182.60" y="212.10" width="44.30" height="124.70" fill="#e6e6e6" stroke="none" stroke-width="0"/>
<line x1="181.00" y1="211.50" x2="181.00" y2="337.40" stroke="#111" stroke-width="1.95" stroke-dasharray="6.7 2.7"/>
<rect x="44.30" y="335.00" width="7.30" height="2.40" fill="#1f6db3" stroke="#1a1a1a" stroke-width="0.85"/>
<line x1="46.35" y1="334.70" x2="49.55" y2="334.70" stroke="#111" stroke-width="0.9" />
<text x="47.75" y="331.88" font-size="7" text-anchor="middle" fill="#fff" stroke="#fff" stroke-width="1.6" stroke-opacity="0.6" font-weight="normal">c</text>
<text x="47.75" y="331.88" font-size="7" text-anchor="middle" fill="#111" font-weight="normal" stroke="#111" stroke-width="0.3" >c</text>
<rect x="51.60" y="320.10" width="7.30" height="17.30" fill="#c0392b" stroke="#1a1a1a" stroke-width="0.85"/>
<line x1="55.25" y1="319.00" x2="55.25" y2="320.10" stroke="#fff" stroke-width="2.6" stroke-opacity="0.55"/>
<line x1="55.25" y1="319.50" x2="55.25" y2="320.70" stroke="#333" stroke-width="0.85" />
<line x1="53.95" y1="319.50" x2="56.55" y2="319.50" stroke="#1a1a1a" stroke-width="1.0" />
<line x1="53.95" y1="320.70" x2="56.55" y2="320.70" stroke="#1a1a1a" stroke-width="1.0" />
<text x="55.05" y="317.38" font-size="7" text-anchor="middle" fill="#fff" stroke="#fff" stroke-width="1.6" stroke-opacity="0.6" font-weight="normal">a</text>
<text x="55.05" y="317.38" font-size="7" text-anchor="middle" fill="#111" font-weight="normal" stroke="#111" stroke-width="0.3" >a</text>
<rect x="58.90" y="319.40" width="7.30" height="18.00" fill="#e38a2d" stroke="#1a1a1a" stroke-width="0.85"/>
<line x1="62.55" y1="318.30" x2="62.55" y2="319.40" stroke="#fff" stroke-width="2.6" stroke-opacity="0.55"/>
<line x1="62.55" y1="318.80" x2="62.55" y2="320.00" stroke="#333" stroke-width="0.85" />
<line x1="61.25" y1="318.80" x2="63.85" y2="318.80" stroke="#1a1a1a" stroke-width="1.0" />
<line x1="61.25" y1="320.00" x2="63.85" y2="320.00" stroke="#1a1a1a" stroke-width="1.0" />
<text x="62.35" y="316.48" font-size="7" text-anchor="middle" fill="#fff" stroke="#fff" stroke-width="1.6" stroke-opacity="0.6" font-weight="normal">a</text>
<text x="62.35" y="316.48" font-size="7" text-anchor="middle" fill="#111" font-weight="normal" stroke="#111" stroke-width="0.3" >a</text>
<rect x="66.20" y="325.50" width="7.30" height="11.90" fill="#1e8a4b" stroke="#1a1a1a" stroke-width="0.85"/>
<line x1="69.85" y1="323.80" x2="69.85" y2="325.50" stroke="#fff" stroke-width="2.6" stroke-opacity="0.55"/>
<line x1="69.85" y1="324.30" x2="69.85" y2="326.70" stroke="#333" stroke-width="0.85" />
<line x1="68.55" y1="324.30" x2="71.15" y2="324.30" stroke="#1a1a1a" stroke-width="1.0" />
<line x1="68.55" y1="326.70" x2="71.15" y2="326.70" stroke="#1a1a1a" stroke-width="1.0" />
<text x="69.65" y="322.28" font-size="7" text-anchor="middle" fill="#fff" stroke="#fff" stroke-width="1.6" stroke-opacity="0.6" font-weight="normal">b</text>
<text x="69.65" y="322.28" font-size="7" text-anchor="middle" fill="#111" font-weight="normal" stroke="#111" stroke-width="0.3" >b</text>
<rect x="73.50" y="325.20" width="7.30" height="12.20" fill="#7b74b6" stroke="#1a1a1a" stroke-width="0.85"/>
<line x1="75.55" y1="324.90" x2="78.75" y2="324.90" stroke="#111" stroke-width="0.9" />
<text x="76.95" y="323.08" font-size="7" text-anchor="middle" fill="#fff" stroke="#fff" stroke-width="1.6" stroke-opacity="0.6" font-weight="normal">b</text>
<text x="76.95" y="323.08" font-size="7" text-anchor="middle" fill="#111" font-weight="normal" stroke="#111" stroke-width="0.3" >b</text>
<rect x="90.30" y="333.60" width="7.30" height="3.80" fill="#1f6db3" stroke="#1a1a1a" stroke-width="0.85"/>
<line x1="92.35" y1="333.30" x2="95.55" y2="333.30" stroke="#111" stroke-width="0.9" />
<text x="93.75" y="331.38" font-size="7" text-anchor="middle" fill="#fff" stroke="#fff" stroke-width="1.6" stroke-opacity="0.6" font-weight="normal">d</text>
<text x="93.75" y="331.38" font-size="7" text-anchor="middle" fill="#111" font-weight="normal" stroke="#111" stroke-width="0.3" >d</text>
<rect x="97.60" y="283.10" width="7.30" height="54.30" fill="#c0392b" stroke="#1a1a1a" stroke-width="0.85"/>
<line x1="101.25" y1="280.20" x2="101.25" y2="283.10" stroke="#fff" stroke-width="2.6" stroke-opacity="0.55"/>
<line x1="101.25" y1="280.70" x2="101.25" y2="285.50" stroke="#333" stroke-width="0.85" />
<line x1="99.95" y1="280.70" x2="102.55" y2="280.70" stroke="#1a1a1a" stroke-width="1.0" />
<line x1="99.95" y1="285.50" x2="102.55" y2="285.50" stroke="#1a1a1a" stroke-width="1.0" />
<text x="101.05" y="277.78" font-size="7" text-anchor="middle" fill="#fff" stroke="#fff" stroke-width="1.6" stroke-opacity="0.6" font-weight="normal">a</text>
<text x="101.05" y="277.78" font-size="7" text-anchor="middle" fill="#111" font-weight="normal" stroke="#111" stroke-width="0.3" >a</text>
<rect x="104.90" y="290.00" width="7.30" height="47.40" fill="#e38a2d" stroke="#1a1a1a" stroke-width="0.85"/>
<line x1="106.95" y1="289.70" x2="110.15" y2="289.70" stroke="#111" stroke-width="0.9" />
<text x="108.35" y="287.98" font-size="7" text-anchor="middle" fill="#fff" stroke="#fff" stroke-width="1.6" stroke-opacity="0.6" font-weight="normal">b</text>
<text x="108.35" y="287.98" font-size="7" text-anchor="middle" fill="#111" font-weight="normal" stroke="#111" stroke-width="0.3" >b</text>
<rect x="112.20" y="305.40" width="7.30" height="32.00" fill="#1e8a4b" stroke="#1a1a1a" stroke-width="0.85"/>
<line x1="115.85" y1="302.40" x2="115.85" y2="305.40" stroke="#fff" stroke-width="2.6" stroke-opacity="0.55"/>
<line x1="115.85" y1="302.90" x2="115.85" y2="307.90" stroke="#333" stroke-width="0.85" />
<line x1="114.55" y1="302.90" x2="117.15" y2="302.90" stroke="#1a1a1a" stroke-width="1.0" />
<line x1="114.55" y1="307.90" x2="117.15" y2="307.90" stroke="#1a1a1a" stroke-width="1.0" />
<text x="115.65" y="300.88" font-size="7" text-anchor="middle" fill="#fff" stroke="#fff" stroke-width="1.6" stroke-opacity="0.6" font-weight="normal">c</text>
<text x="115.65" y="300.88" font-size="7" text-anchor="middle" fill="#111" font-weight="normal" stroke="#111" stroke-width="0.3" >c</text>
<rect x="119.50" y="308.10" width="7.30" height="29.30" fill="#7b74b6" stroke="#1a1a1a" stroke-width="0.85"/>
<line x1="121.55" y1="307.80" x2="124.75" y2="307.80" stroke="#111" stroke-width="0.9" />
<text x="122.95" y="306.38" font-size="7" text-anchor="middle" fill="#fff" stroke="#fff" stroke-width="1.6" stroke-opacity="0.6" font-weight="normal">c</text>
<text x="122.95" y="306.38" font-size="7" text-anchor="middle" fill="#111" font-weight="normal" stroke="#111" stroke-width="0.3" >c</text>
<rect x="136.30" y="331.00" width="7.30" height="6.40" fill="#1f6db3" stroke="#1a1a1a" stroke-width="0.85"/>
<line x1="138.35" y1="330.70" x2="141.55" y2="330.70" stroke="#111" stroke-width="0.9" />
<text x="139.75" y="329.38" font-size="7" text-anchor="middle" fill="#fff" stroke="#fff" stroke-width="1.6" stroke-opacity="0.6" font-weight="normal">d</text>
<text x="139.75" y="329.38" font-size="7" text-anchor="middle" fill="#111" font-weight="normal" stroke="#111" stroke-width="0.3" >d</text>
<rect x="143.60" y="261.60" width="7.30" height="75.80" fill="#c0392b" stroke="#1a1a1a" stroke-width="0.85"/>
<line x1="147.25" y1="255.50" x2="147.25" y2="261.60" stroke="#fff" stroke-width="2.6" stroke-opacity="0.55"/>
<line x1="147.25" y1="256.00" x2="147.25" y2="267.20" stroke="#333" stroke-width="0.85" />
<line x1="145.95" y1="256.00" x2="148.55" y2="256.00" stroke="#1a1a1a" stroke-width="1.0" />
<line x1="145.95" y1="267.20" x2="148.55" y2="267.20" stroke="#1a1a1a" stroke-width="1.0" />
<text x="147.05" y="252.68" font-size="7" text-anchor="middle" fill="#fff" stroke="#fff" stroke-width="1.6" stroke-opacity="0.6" font-weight="normal">a</text>
<text x="147.05" y="252.68" font-size="7" text-anchor="middle" fill="#111" font-weight="normal" stroke="#111" stroke-width="0.3" >a</text>
<rect x="150.90" y="280.10" width="7.30" height="57.30" fill="#e38a2d" stroke="#1a1a1a" stroke-width="0.85"/>
<line x1="154.55" y1="276.60" x2="154.55" y2="280.10" stroke="#fff" stroke-width="2.6" stroke-opacity="0.55"/>
<line x1="154.55" y1="277.10" x2="154.55" y2="283.10" stroke="#333" stroke-width="0.85" />
<line x1="153.25" y1="277.10" x2="155.85" y2="277.10" stroke="#1a1a1a" stroke-width="1.0" />
<line x1="153.25" y1="283.10" x2="155.85" y2="283.10" stroke="#1a1a1a" stroke-width="1.0" />
<text x="154.35" y="274.58" font-size="7" text-anchor="middle" fill="#fff" stroke="#fff" stroke-width="1.6" stroke-opacity="0.6" font-weight="normal">b</text>
<text x="154.35" y="274.58" font-size="7" text-anchor="middle" fill="#111" font-weight="normal" stroke="#111" stroke-width="0.3" >b</text>
<rect x="158.20" y="294.50" width="7.30" height="42.90" fill="#1e8a4b" stroke="#1a1a1a" stroke-width="0.85"/>
<line x1="161.85" y1="290.50" x2="161.85" y2="294.50" stroke="#fff" stroke-width="2.6" stroke-opacity="0.55"/>
<line x1="161.85" y1="291.00" x2="161.85" y2="298.00" stroke="#333" stroke-width="0.85" />
<line x1="160.55" y1="291.00" x2="163.15" y2="291.00" stroke="#1a1a1a" stroke-width="1.0" />
<line x1="160.55" y1="298.00" x2="163.15" y2="298.00" stroke="#1a1a1a" stroke-width="1.0" />
<text x="161.65" y="288.88" font-size="7" text-anchor="middle" fill="#fff" stroke="#fff" stroke-width="1.6" stroke-opacity="0.6" font-weight="normal">c</text>
<text x="161.65" y="288.88" font-size="7" text-anchor="middle" fill="#111" font-weight="normal" stroke="#111" stroke-width="0.3" >c</text>
<rect x="165.50" y="305.40" width="7.30" height="32.00" fill="#7b74b6" stroke="#1a1a1a" stroke-width="0.85"/>
<line x1="167.55" y1="305.10" x2="170.75" y2="305.10" stroke="#111" stroke-width="0.9" />
<text x="168.95" y="303.08" font-size="7" text-anchor="middle" fill="#fff" stroke="#fff" stroke-width="1.6" stroke-opacity="0.6" font-weight="normal">c</text>
<text x="168.95" y="303.08" font-size="7" text-anchor="middle" fill="#111" font-weight="normal" stroke="#111" stroke-width="0.3" >c</text>
<rect x="189.40" y="272.90" width="7.30" height="64.50" fill="#1f6db3" stroke="#1a1a1a" stroke-width="0.85"/>
<line x1="193.05" y1="271.90" x2="193.05" y2="272.90" stroke="#fff" stroke-width="2.6" stroke-opacity="0.55"/>
<line x1="193.05" y1="272.40" x2="193.05" y2="273.40" stroke="#333" stroke-width="0.85" />
<line x1="191.75" y1="272.40" x2="194.35" y2="272.40" stroke="#1a1a1a" stroke-width="1.0" />
<line x1="191.75" y1="273.40" x2="194.35" y2="273.40" stroke="#1a1a1a" stroke-width="1.0" />
<text x="192.85" y="269.08" font-size="7" text-anchor="middle" fill="#fff" stroke="#fff" stroke-width="1.6" stroke-opacity="0.6" font-weight="normal">b</text>
<text x="192.85" y="269.08" font-size="7" text-anchor="middle" fill="#111" font-weight="normal" stroke="#111" stroke-width="0.3" >b</text>
<rect x="196.70" y="276.40" width="7.30" height="61.00" fill="#c0392b" stroke="#1a1a1a" stroke-width="0.85"/>
<line x1="200.35" y1="271.70" x2="200.35" y2="276.40" stroke="#fff" stroke-width="2.6" stroke-opacity="0.55"/>
<line x1="200.35" y1="272.20" x2="200.35" y2="280.60" stroke="#333" stroke-width="0.85" />
<line x1="199.05" y1="272.20" x2="201.65" y2="272.20" stroke="#1a1a1a" stroke-width="1.0" />
<line x1="199.05" y1="280.60" x2="201.65" y2="280.60" stroke="#1a1a1a" stroke-width="1.0" />
<text x="200.15" y="268.78" font-size="7" text-anchor="middle" fill="#fff" stroke="#fff" stroke-width="1.6" stroke-opacity="0.6" font-weight="normal">b</text>
<text x="200.15" y="268.78" font-size="7" text-anchor="middle" fill="#111" font-weight="normal" stroke="#111" stroke-width="0.3" >b</text>
<rect x="204.00" y="279.30" width="7.30" height="58.10" fill="#e38a2d" stroke="#1a1a1a" stroke-width="0.85"/>
<line x1="207.65" y1="275.60" x2="207.65" y2="279.30" stroke="#fff" stroke-width="2.6" stroke-opacity="0.55"/>
<line x1="207.65" y1="276.10" x2="207.65" y2="282.50" stroke="#333" stroke-width="0.85" />
<line x1="206.35" y1="276.10" x2="208.95" y2="276.10" stroke="#1a1a1a" stroke-width="1.0" />
<line x1="206.35" y1="282.50" x2="208.95" y2="282.50" stroke="#1a1a1a" stroke-width="1.0" />
<text x="207.45" y="273.08" font-size="7" text-anchor="middle" fill="#fff" stroke="#fff" stroke-width="1.6" stroke-opacity="0.6" font-weight="normal">b</text>
<text x="207.45" y="273.08" font-size="7" text-anchor="middle" fill="#111" font-weight="normal" stroke="#111" stroke-width="0.3" >b</text>
<rect x="211.30" y="244.30" width="7.30" height="93.10" fill="#1e8a4b" stroke="#1a1a1a" stroke-width="0.85"/>
<line x1="214.95" y1="236.00" x2="214.95" y2="244.30" stroke="#fff" stroke-width="2.6" stroke-opacity="0.55"/>
<line x1="214.95" y1="236.50" x2="214.95" y2="252.10" stroke="#333" stroke-width="0.85" />
<line x1="213.65" y1="236.50" x2="216.25" y2="236.50" stroke="#1a1a1a" stroke-width="1.0" />
<line x1="213.65" y1="252.10" x2="216.25" y2="252.10" stroke="#1a1a1a" stroke-width="1.0" />
<text x="214.75" y="233.28" font-size="7" text-anchor="middle" fill="#fff" stroke="#fff" stroke-width="1.6" stroke-opacity="0.6" font-weight="normal">a</text>
<text x="214.75" y="233.28" font-size="7" text-anchor="middle" fill="#111" font-weight="normal" stroke="#111" stroke-width="0.3" >a</text>
<rect x="218.60" y="250.50" width="7.30" height="86.90" fill="#7b74b6" stroke="#1a1a1a" stroke-width="0.85"/>
<line x1="222.25" y1="244.80" x2="222.25" y2="250.50" stroke="#fff" stroke-width="2.6" stroke-opacity="0.55"/>
<line x1="222.25" y1="245.30" x2="222.25" y2="255.70" stroke="#333" stroke-width="0.85" />
<line x1="220.95" y1="245.30" x2="223.55" y2="245.30" stroke="#1a1a1a" stroke-width="1.0" />
<line x1="220.95" y1="255.70" x2="223.55" y2="255.70" stroke="#1a1a1a" stroke-width="1.0" />
<text x="222.05" y="242.18" font-size="7" text-anchor="middle" fill="#fff" stroke="#fff" stroke-width="1.6" stroke-opacity="0.6" font-weight="normal">a</text>
<text x="222.05" y="242.18" font-size="7" text-anchor="middle" fill="#111" font-weight="normal" stroke="#111" stroke-width="0.3" >a</text>
<line x1="40.60" y1="211.50" x2="229.40" y2="211.50" stroke="#111" stroke-width="1.45" />
<line x1="40.60" y1="210.85" x2="40.60" y2="338.05" stroke="#111" stroke-width="1.45" />
<line x1="229.40" y1="210.85" x2="229.40" y2="338.05" stroke="#111" stroke-width="1.45" />
<line x1="39.95" y1="337.40" x2="230.05" y2="337.40" stroke="#111" stroke-width="1.45" />
<line x1="35.40" y1="337.40" x2="40.60" y2="337.40" stroke="#111" stroke-width="1.45" />
<text x="33.30" y="341.23" font-size="9.5" text-anchor="end" fill="#111" font-weight="bold" stroke="#111" stroke-width="0.25" >0</text>
<line x1="35.40" y1="309.35" x2="40.60" y2="309.35" stroke="#111" stroke-width="1.45" />
<text x="33.30" y="313.18" font-size="9.5" text-anchor="end" fill="#111" font-weight="bold" stroke="#111" stroke-width="0.25" >5</text>
<line x1="35.40" y1="281.30" x2="40.60" y2="281.30" stroke="#111" stroke-width="1.45" />
<text x="33.30" y="285.13" font-size="9.5" text-anchor="end" fill="#111" font-weight="bold" stroke="#111" stroke-width="0.25" >10</text>
<line x1="35.40" y1="253.25" x2="40.60" y2="253.25" stroke="#111" stroke-width="1.45" />
<text x="33.30" y="257.08" font-size="9.5" text-anchor="end" fill="#111" font-weight="bold" stroke="#111" stroke-width="0.25" >15</text>
<line x1="35.40" y1="225.20" x2="40.60" y2="225.20" stroke="#111" stroke-width="1.45" />
<text x="33.30" y="229.03" font-size="9.5" text-anchor="end" fill="#111" font-weight="bold" stroke="#111" stroke-width="0.25" >20</text>
<line x1="229.40" y1="337.40" x2="235.90" y2="337.40" stroke="#111" stroke-width="1.45" />
<text x="238.40" y="341.23" font-size="9.5" text-anchor="start" fill="#111" font-weight="bold" stroke="#111" stroke-width="0.25" >0</text>
<line x1="229.40" y1="309.42" x2="235.90" y2="309.42" stroke="#111" stroke-width="1.45" />
<text x="238.40" y="313.25" font-size="9.5" text-anchor="start" fill="#111" font-weight="bold" stroke="#111" stroke-width="0.25" >1</text>
<line x1="229.40" y1="281.44" x2="235.90" y2="281.44" stroke="#111" stroke-width="1.45" />
<text x="238.40" y="285.27" font-size="9.5" text-anchor="start" fill="#111" font-weight="bold" stroke="#111" stroke-width="0.25" >2</text>
<line x1="229.40" y1="253.46" x2="235.90" y2="253.46" stroke="#111" stroke-width="1.45" />
<text x="238.40" y="257.29" font-size="9.5" text-anchor="start" fill="#111" font-weight="bold" stroke="#111" stroke-width="0.25" >3</text>
<line x1="229.40" y1="225.48" x2="235.90" y2="225.48" stroke="#111" stroke-width="1.45" />
<text x="238.40" y="229.31" font-size="9.5" text-anchor="start" fill="#111" font-weight="bold" stroke="#111" stroke-width="0.25" >4</text>
<line x1="66.20" y1="337.40" x2="66.20" y2="342.90" stroke="#111" stroke-width="1.45" />
<text x="66.20" y="353.90" font-size="9.5" text-anchor="middle" fill="#111" font-weight="bold" stroke="#111" stroke-width="0.25" >2</text>
<line x1="112.20" y1="337.40" x2="112.20" y2="342.90" stroke="#111" stroke-width="1.45" />
<text x="112.20" y="353.90" font-size="9.5" text-anchor="middle" fill="#111" font-weight="bold" stroke="#111" stroke-width="0.25" >4</text>
<line x1="158.20" y1="337.40" x2="158.20" y2="342.90" stroke="#111" stroke-width="1.45" />
<text x="158.20" y="353.90" font-size="9.5" text-anchor="middle" fill="#111" font-weight="bold" stroke="#111" stroke-width="0.25" >6</text>
<line x1="204.00" y1="337.40" x2="204.00" y2="342.90" stroke="#111" stroke-width="1.45" />
<text x="204.00" y="353.90" font-size="9.5" text-anchor="middle" fill="#111" font-weight="bold" stroke="#111" stroke-width="0.25" >6</text>
<text x="135.30" y="368.40" font-size="10.2" text-anchor="middle" fill="#111" font-weight="bold" stroke="#111" stroke-width="0.25" >Time (d)</text>
<rect x="45.40" y="213.60" width="13.40" height="7.90" fill="#1f6db3" stroke="#333" stroke-width="0.7"/>
<text x="66.50" y="220.40" font-size="10.15" text-anchor="start" fill="#111" font-weight="bold" stroke="#111" stroke-width="0.25" >TN/TP=5:1</text>
<rect x="45.40" y="223.60" width="13.40" height="7.90" fill="#c0392b" stroke="#333" stroke-width="0.7"/>
<text x="66.50" y="230.40" font-size="10.15" text-anchor="start" fill="#111" font-weight="bold" stroke="#111" stroke-width="0.25" >TN/TP=10:1</text>
<rect x="45.40" y="233.60" width="13.40" height="7.90" fill="#e38a2d" stroke="#333" stroke-width="0.7"/>
<text x="66.50" y="240.40" font-size="10.15" text-anchor="start" fill="#111" font-weight="bold" stroke="#111" stroke-width="0.25" >TN/TP=25:1</text>
<rect x="45.40" y="243.60" width="13.40" height="7.90" fill="#1e8a4b" stroke="#333" stroke-width="0.7"/>
<text x="66.50" y="250.40" font-size="10.15" text-anchor="start" fill="#111" font-weight="bold" stroke="#111" stroke-width="0.25" >TN/TP=50:1</text>
<rect x="45.40" y="253.60" width="13.40" height="7.90" fill="#7b74b6" stroke="#333" stroke-width="0.7"/>
<text x="66.50" y="260.40" font-size="10.15" text-anchor="start" fill="#111" font-weight="bold" stroke="#111" stroke-width="0.25" >TN/TP=80:1</text>
<text transform="translate(32.30,212.60)" font-size="14.5" fill="#111" font-weight="bold" stroke="#111" stroke-width="0.25">c</text>
<text transform="translate(17.20,277.90) rotate(-90)" font-size="10.2" text-anchor="middle" fill="#111" font-weight="bold" stroke="#111" stroke-width="0.25" textLength="133.1" lengthAdjust="spacingAndGlyphs">Lutein concentration (mg·L<tspan font-size="0.75em" dy="-0.45em">−1</tspan><tspan dy="0.34em">)</tspan></text>
<text transform="translate(256.90,280.70) rotate(-90)" font-size="10.2" text-anchor="middle" fill="#111" font-weight="bold" stroke="#111" stroke-width="0.25" textLength="99.7" lengthAdjust="spacingAndGlyphs">Lutein content (mg·g<tspan font-size="0.75em" dy="-0.45em">−1</tspan><tspan dy="0.34em">)</tspan></text>
<rect x="331.10" y="329.20" width="12.00" height="9.10" fill="#bbdcd5" stroke="#2f3f3d" stroke-width="0.9"/>
<text x="337.20" y="327.18" font-size="7" text-anchor="middle" fill="#111" font-weight="normal" stroke="#111" stroke-width="0.2" >e</text>
<rect x="369.10" y="249.50" width="12.00" height="88.80" fill="#bbdcd5" stroke="#2f3f3d" stroke-width="0.9"/>
<line x1="373.40" y1="249.30" x2="377.00" y2="249.30" stroke="#111" stroke-width="1.0" />
<text x="375.20" y="246.48" font-size="7" text-anchor="middle" fill="#111" font-weight="normal" stroke="#111" stroke-width="0.2" >a</text>
<rect x="407.10" y="270.20" width="12.00" height="68.10" fill="#bbdcd5" stroke="#2f3f3d" stroke-width="0.9"/>
<line x1="411.40" y1="270.00" x2="415.00" y2="270.00" stroke="#111" stroke-width="1.0" />
<text x="413.20" y="267.08" font-size="7" text-anchor="middle" fill="#111" font-weight="normal" stroke="#111" stroke-width="0.2" >b</text>
<rect x="445.10" y="300.20" width="12.00" height="38.10" fill="#bbdcd5" stroke="#2f3f3d" stroke-width="0.9"/>
<line x1="449.40" y1="300.00" x2="453.00" y2="300.00" stroke="#111" stroke-width="1.0" />
<text x="451.20" y="297.08" font-size="7" text-anchor="middle" fill="#111" font-weight="normal" stroke="#111" stroke-width="0.2" >c</text>
<rect x="483.10" y="308.40" width="12.00" height="29.90" fill="#bbdcd5" stroke="#2f3f3d" stroke-width="0.9"/>
<line x1="487.40" y1="308.20" x2="491.00" y2="308.20" stroke="#111" stroke-width="1.0" />
<text x="489.20" y="306.48" font-size="7" text-anchor="middle" fill="#111" font-weight="normal" stroke="#111" stroke-width="0.2" >d</text>
<polyline points="337.2,259.5 375.2,299.1 413.3,304.6 451.3,265.0 489.2,270.8" fill="none" stroke="#a0161c" stroke-width="1.45" stroke-dasharray="3.5 2.0"/>
<polygon points="337.20,256.70 337.89,258.55 339.86,258.63 338.32,259.86 338.85,261.77 337.20,260.68 335.55,261.77 336.08,259.86 334.54,258.63 336.51,258.55" fill="#a0161c"/>
<polygon points="375.20,296.30 375.89,298.15 377.86,298.23 376.32,299.46 376.85,301.37 375.20,300.28 373.55,301.37 374.08,299.46 372.54,298.23 374.51,298.15" fill="#a0161c"/>
<polygon points="413.30,301.80 413.99,303.65 415.96,303.73 414.42,304.96 414.95,306.87 413.30,305.78 411.65,306.87 412.18,304.96 410.64,303.73 412.61,303.65" fill="#a0161c"/>
<polygon points="451.30,262.20 451.99,264.05 453.96,264.13 452.42,265.36 452.95,267.27 451.30,266.18 449.65,267.27 450.18,265.36 448.64,264.13 450.61,264.05" fill="#a0161c"/>
<polygon points="489.20,268.00 489.89,269.85 491.86,269.93 490.32,271.16 490.85,273.07 489.20,271.98 487.55,273.07 488.08,271.16 486.54,269.93 488.51,269.85" fill="#a0161c"/>
<text x="337.20" y="255.18" font-size="7" text-anchor="middle" fill="#111" font-weight="normal" stroke="#111" stroke-width="0.2" >a</text>
<text x="375.20" y="294.98" font-size="7" text-anchor="middle" fill="#111" font-weight="normal" stroke="#111" stroke-width="0.2" >c</text>
<text x="413.30" y="301.18" font-size="7" text-anchor="middle" fill="#111" font-weight="normal" stroke="#111" stroke-width="0.2" >d</text>
<text x="451.30" y="260.28" font-size="7" text-anchor="middle" fill="#111" font-weight="normal" stroke="#111" stroke-width="0.2" >a</text>
<text x="489.20" y="266.88" font-size="7" text-anchor="middle" fill="#111" font-weight="normal" stroke="#111" stroke-width="0.2" >b</text>
<line x1="318.30" y1="211.70" x2="508.00" y2="211.70" stroke="#111" stroke-width="1.45" />
<line x1="318.30" y1="211.05" x2="318.30" y2="338.95" stroke="#111" stroke-width="1.45" />
<line x1="508.00" y1="211.05" x2="508.00" y2="338.95" stroke="#111" stroke-width="1.45" />
<line x1="317.65" y1="338.30" x2="508.65" y2="338.30" stroke="#111" stroke-width="1.45" />
<line x1="313.10" y1="338.30" x2="318.30" y2="338.30" stroke="#111" stroke-width="1.45" />
<text x="311.00" y="342.13" font-size="9.5" text-anchor="end" fill="#111" font-weight="bold" stroke="#111" stroke-width="0.25" >0.0</text>
<line x1="313.10" y1="318.78" x2="318.30" y2="318.78" stroke="#111" stroke-width="1.45" />
<text x="311.00" y="322.61" font-size="9.5" text-anchor="end" fill="#111" font-weight="bold" stroke="#111" stroke-width="0.25" >0.5</text>
<line x1="313.10" y1="299.26" x2="318.30" y2="299.26" stroke="#111" stroke-width="1.45" />
<text x="311.00" y="303.09" font-size="9.5" text-anchor="end" fill="#111" font-weight="bold" stroke="#111" stroke-width="0.25" >1.0</text>
<line x1="313.10" y1="279.74" x2="318.30" y2="279.74" stroke="#111" stroke-width="1.45" />
<text x="311.00" y="283.57" font-size="9.5" text-anchor="end" fill="#111" font-weight="bold" stroke="#111" stroke-width="0.25" >1.5</text>
<line x1="313.10" y1="260.22" x2="318.30" y2="260.22" stroke="#111" stroke-width="1.45" />
<text x="311.00" y="264.05" font-size="9.5" text-anchor="end" fill="#111" font-weight="bold" stroke="#111" stroke-width="0.25" >2.0</text>
<line x1="313.10" y1="240.70" x2="318.30" y2="240.70" stroke="#111" stroke-width="1.45" />
<text x="311.00" y="244.53" font-size="9.5" text-anchor="end" fill="#111" font-weight="bold" stroke="#111" stroke-width="0.25" >2.5</text>
<line x1="313.10" y1="221.18" x2="318.30" y2="221.18" stroke="#111" stroke-width="1.45" />
<text x="311.00" y="225.01" font-size="9.5" text-anchor="end" fill="#111" font-weight="bold" stroke="#111" stroke-width="0.25" >3.0</text>
<line x1="508.00" y1="338.30" x2="514.50" y2="338.30" stroke="#111" stroke-width="1.45" />
<text x="517.00" y="342.13" font-size="9.5" text-anchor="start" fill="#a0161c" font-weight="bold" stroke="#a0161c" stroke-width="0.25" >0.30</text>
<line x1="508.00" y1="310.05" x2="514.50" y2="310.05" stroke="#111" stroke-width="1.45" />
<text x="517.00" y="313.88" font-size="9.5" text-anchor="start" fill="#a0161c" font-weight="bold" stroke="#a0161c" stroke-width="0.25" >0.35</text>
<line x1="508.00" y1="281.80" x2="514.50" y2="281.80" stroke="#111" stroke-width="1.45" />
<text x="517.00" y="285.63" font-size="9.5" text-anchor="start" fill="#a0161c" font-weight="bold" stroke="#a0161c" stroke-width="0.25" >0.40</text>
<line x1="508.00" y1="253.55" x2="514.50" y2="253.55" stroke="#111" stroke-width="1.45" />
<text x="517.00" y="257.38" font-size="9.5" text-anchor="start" fill="#a0161c" font-weight="bold" stroke="#a0161c" stroke-width="0.25" >0.45</text>
<line x1="508.00" y1="225.30" x2="514.50" y2="225.30" stroke="#111" stroke-width="1.45" />
<text x="517.00" y="229.13" font-size="9.5" text-anchor="start" fill="#a0161c" font-weight="bold" stroke="#a0161c" stroke-width="0.25" >0.50</text>
<line x1="337.20" y1="338.30" x2="337.20" y2="343.80" stroke="#111" stroke-width="1.45" />
<text x="337.20" y="354.80" font-size="9.5" text-anchor="middle" fill="#111" font-weight="bold" stroke="#111" stroke-width="0.25" >5:1</text>
<line x1="375.20" y1="338.30" x2="375.20" y2="343.80" stroke="#111" stroke-width="1.45" />
<text x="375.20" y="354.80" font-size="9.5" text-anchor="middle" fill="#111" font-weight="bold" stroke="#111" stroke-width="0.25" >10:1</text>
<line x1="413.20" y1="338.30" x2="413.20" y2="343.80" stroke="#111" stroke-width="1.45" />
<text x="413.20" y="354.80" font-size="9.5" text-anchor="middle" fill="#111" font-weight="bold" stroke="#111" stroke-width="0.25" >25:1</text>
<line x1="451.20" y1="338.30" x2="451.20" y2="343.80" stroke="#111" stroke-width="1.45" />
<text x="451.20" y="354.80" font-size="9.5" text-anchor="middle" fill="#111" font-weight="bold" stroke="#111" stroke-width="0.25" >50:1</text>
<line x1="489.20" y1="338.30" x2="489.20" y2="343.80" stroke="#111" stroke-width="1.45" />
<text x="489.20" y="354.80" font-size="9.5" text-anchor="middle" fill="#111" font-weight="bold" stroke="#111" stroke-width="0.25" >80:1</text>
<text x="413.20" y="370.00" font-size="10.2" text-anchor="middle" fill="#111" font-weight="bold" stroke="#111" stroke-width="0.25" >Nitrogen-phosphorus ratios</text>
<rect x="322.10" y="215.20" width="12.00" height="8.60" fill="#bbdcd5" stroke="#2a2a2a" stroke-width="1.0"/>
<text x="343.00" y="224.00" font-size="10.15" text-anchor="start" fill="#111" font-weight="bold" stroke="#111" stroke-width="0.25" >Protein yield (g·L<tspan font-size="0.75em" dy="-0.45em">−1</tspan><tspan dy="0.34em">)</tspan></text>
<line x1="321.50" y1="233.50" x2="335.50" y2="233.50" stroke="#a0161c" stroke-width="1.5" stroke-dasharray="4 2"/>
<polygon points="328.50,230.70 329.19,232.55 331.16,232.63 329.62,233.86 330.15,235.77 328.50,234.68 326.85,235.77 327.38,233.86 325.84,232.63 327.81,232.55" fill="#a0161c"/>
<text x="343.00" y="237.60" font-size="10.15" text-anchor="start" fill="#a0161c" font-weight="bold" stroke="#a0161c" stroke-width="0.25" >Protein content (g·g<tspan font-size="0.75em" dy="-0.45em">−1</tspan><tspan dy="0.34em">)</tspan></text>
<text transform="translate(307.6,212.3)" font-size="14.5" fill="#111" font-weight="bold" stroke="#111" stroke-width="0.25">d</text>
<text transform="translate(292.90,274.30) rotate(-90)" font-size="10.2" text-anchor="middle" fill="#111" font-weight="bold" stroke="#111" stroke-width="0.25" textLength="87.3" lengthAdjust="spacingAndGlyphs">Protein yield (g·L<tspan font-size="0.75em" dy="-0.45em">−1</tspan><tspan dy="0.34em">)</tspan></text>
<text transform="translate(544.60,275.60) rotate(-90)" font-size="10.2" text-anchor="middle" fill="#a0161c" font-weight="bold" stroke="#a0161c" stroke-width="0.25" textLength="99.3" lengthAdjust="spacingAndGlyphs">Protein content (g·g<tspan font-size="0.75em" dy="-0.45em">−1</tspan><tspan dy="0.34em">)</tspan></text>
</svg>
</body></html>
